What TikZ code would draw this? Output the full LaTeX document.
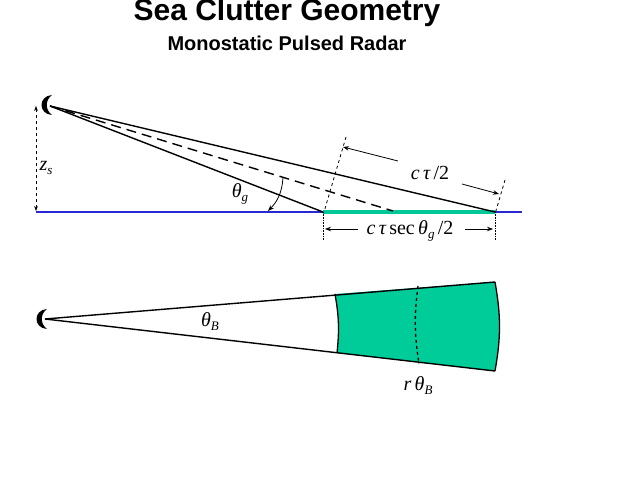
\documentclass[tikz,border=0pt]{standalone}
\usepackage{fontspec}
\setmainfont{Liberation Serif}
\newfontfamily\arial{Liberation Sans}
\usetikzlibrary{arrows.meta}
\begin{document}
\begin{tikzpicture}[x=1pt,y=-1pt,
  ln/.style={line width=1.4pt},
  dim/.style={line width=0.8pt,-{Stealth[length=6pt]}},
  tick/.style={line width=0.8pt,dashed},
  lbl/.style={inner sep=0pt,font=\fontsize{20}{20}\selectfont\itshape}]
\newcommand\mysub[1]{\raisebox{-4pt}{\fontsize{13}{13}\selectfont #1}}
\useasboundingbox (0,0) rectangle (638,478);
\node[font=\arial\bfseries\fontsize{30}{30}\selectfont] (title) at (287,13) {Sea Clutter Geometry};
\node[font=\arial\bfseries\fontsize{20}{20}\selectfont] (sub) at (287,43) {Monostatic Pulsed Radar};
% top
\coordinate (R) at (50,106);
\coordinate (A) at (323,212);
\coordinate (B) at (495,212);
\coordinate (D) at (393,211);
\coordinate (G0) at (36,212);
\coordinate (G1) at (522,212);
\fill (52,95) .. controls (38,96) and (38,114) .. (52,115) .. controls (45,110) and (45,100) .. (52,95) -- cycle;
\draw[color={rgb,255:red,40;green,40;blue,210},line width=1.8pt] (G0) -- (G1);
\draw[color={rgb,255:red,0;green,200;blue,150},line width=3.5pt] (A) -- (B);
\draw[ln] (R) -- (A);
\draw[ln] (R) -- (B);
\draw[ln,dashed,dash pattern=on 10pt off 6pt] (R) -- (D);
\draw[line width=0.8pt,dashed,{Stealth[length=5pt]}-{Stealth[length=5pt]}] (36,106) -- (36,211);
\node[lbl] (zs) at (46,168) {z\mysub{s}};
\node[lbl] (tg) at (240,194) {θ\mysub{g}};
\draw[dim] (283,178) to[bend left=20] (268,211);
\coordinate (T1a) at (346,137); \coordinate (T1b) at (324,212);
\coordinate (T2a) at (505,180); \coordinate (T2b) at (495,214);
\draw[tick] (T1a) -- (T1b);
\draw[tick] (T2a) -- (T2b);
\node[lbl] (ct) at (430,173) {c\,τ\,\upshape/2};
\draw[dim] (398,161) -- (343,147);
\draw[dim] (462,184) -- (499,194);
\draw[densely dotted,line width=0.6pt] (A) -- (323,240);
\draw[densely dotted,line width=0.6pt] (B) -- (495,240);
\node[lbl] (cts) at (410,231) {c\,τ\,\upshape sec\,\itshape θ\mysub{g}\,\upshape/2};
\draw[dim] (358,229) -- (325,229);
\draw[dim] (465,229) -- (493,229);
% bottom
\coordinate (P) at (45,319);
\fill (47,309) .. controls (33,310) and (33,328) .. (47,329) .. controls (40,324) and (40,314) .. (47,309) -- cycle;
\fill[color={rgb,255:red,0;green,204;blue,153}] (335,294) to[bend left=8] (337,353) -- (495,371) to[bend right=10] (495,282) -- cycle;
\draw[line width=1.3pt] (335,294) to[bend left=8] (337,353);
\draw[line width=1.3pt] (495,371) to[bend right=10] (495,282);
\draw[ln] (P) -- (495,282);
\draw[ln] (P) -- (495,371);
\draw[line width=1.3pt,dashed] (418,286) to[bend right=8] (419,364);
\node[lbl] (tb) at (210,322) {θ\mysub{B}};
\node[lbl] (rtb) at (418,386) {r\,θ\mysub{B}};
\end{tikzpicture}
\end{document}
